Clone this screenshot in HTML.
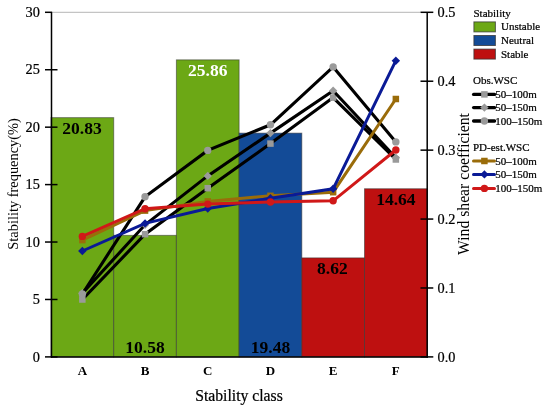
<!DOCTYPE html>
<html><head><meta charset="utf-8"><style>html,body{margin:0;padding:0;background:#fff;}svg{display:block;}</style></head><body>
<svg width="550" height="411" viewBox="0 0 550 411">
<style>text:not([font-weight]){stroke:#000;stroke-width:0.22px;}</style>
<rect width="550" height="411" fill="#fff"/>
<line x1="52.5" y1="12.3" x2="420.2" y2="12.3" stroke="#c4c4c4" stroke-width="1.2"/>
<rect x="51.00" y="117.63" width="62.70" height="239.27" fill="#6ca815" stroke="#333" stroke-opacity="0.55" stroke-width="1"/>
<rect x="113.70" y="235.37" width="62.70" height="121.53" fill="#6ca815" stroke="#333" stroke-opacity="0.55" stroke-width="1"/>
<rect x="176.40" y="59.85" width="62.70" height="297.05" fill="#6ca815" stroke="#333" stroke-opacity="0.55" stroke-width="1"/>
<rect x="239.10" y="133.14" width="62.70" height="223.76" fill="#134b97" stroke="#333" stroke-opacity="0.55" stroke-width="1"/>
<rect x="301.80" y="257.88" width="62.70" height="99.02" fill="#be1010" stroke="#333" stroke-opacity="0.55" stroke-width="1"/>
<rect x="364.50" y="188.74" width="62.70" height="168.16" fill="#be1010" stroke="#333" stroke-opacity="0.55" stroke-width="1"/>
<text x="82.05" y="133.53" font-family="Liberation Serif, serif" font-weight="bold" font-size="17.5" text-anchor="middle" fill="#000">20.83</text>
<text x="145.05" y="352.60" font-family="Liberation Serif, serif" font-weight="bold" font-size="17.5" text-anchor="middle" fill="#000">10.58</text>
<text x="207.75" y="76.25" font-family="Liberation Serif, serif" font-weight="bold" font-size="17.5" text-anchor="middle" fill="#fff">25.86</text>
<text x="270.45" y="352.60" font-family="Liberation Serif, serif" font-weight="bold" font-size="17.5" text-anchor="middle" fill="#000">19.48</text>
<text x="332.35" y="274.28" font-family="Liberation Serif, serif" font-weight="bold" font-size="17.5" text-anchor="middle" fill="#000">8.62</text>
<text x="395.85" y="205.14" font-family="Liberation Serif, serif" font-weight="bold" font-size="17.5" text-anchor="middle" fill="#000">14.64</text>
<polyline points="82.35,299.50 145.05,234.20 207.75,188.20 270.45,143.60 333.15,97.60 395.85,159.50" fill="none" stroke="#000" stroke-width="3.1" stroke-linejoin="miter"/>
<rect x="79.10" y="296.25" width="6.50" height="6.50" fill="#9a9a9a"/>
<rect x="141.80" y="230.95" width="6.50" height="6.50" fill="#9a9a9a"/>
<rect x="204.50" y="184.95" width="6.50" height="6.50" fill="#9a9a9a"/>
<rect x="267.20" y="140.35" width="6.50" height="6.50" fill="#9a9a9a"/>
<rect x="329.90" y="94.35" width="6.50" height="6.50" fill="#9a9a9a"/>
<rect x="392.60" y="156.25" width="6.50" height="6.50" fill="#9a9a9a"/>
<polyline points="82.35,293.30 145.05,224.80 207.75,175.90 270.45,133.10 333.15,90.70 395.85,157.80" fill="none" stroke="#000" stroke-width="3.1" stroke-linejoin="miter"/>
<path d="M82.35 289.10L86.55 293.30L82.35 297.50L78.15 293.30Z" fill="#9a9a9a"/>
<path d="M145.05 220.60L149.25 224.80L145.05 229.00L140.85 224.80Z" fill="#9a9a9a"/>
<path d="M207.75 171.70L211.95 175.90L207.75 180.10L203.55 175.90Z" fill="#9a9a9a"/>
<path d="M270.45 128.90L274.65 133.10L270.45 137.30L266.25 133.10Z" fill="#9a9a9a"/>
<path d="M333.15 86.50L337.35 90.70L333.15 94.90L328.95 90.70Z" fill="#9a9a9a"/>
<path d="M395.85 153.60L400.05 157.80L395.85 162.00L391.65 157.80Z" fill="#9a9a9a"/>
<polyline points="82.35,294.00 145.05,196.80 207.75,150.40 270.45,124.80 333.15,66.90 395.85,141.90" fill="none" stroke="#000" stroke-width="3.1" stroke-linejoin="miter"/>
<circle cx="82.35" cy="294.00" r="3.7" fill="#9a9a9a"/>
<circle cx="145.05" cy="196.80" r="3.7" fill="#9a9a9a"/>
<circle cx="207.75" cy="150.40" r="3.7" fill="#9a9a9a"/>
<circle cx="270.45" cy="124.80" r="3.7" fill="#9a9a9a"/>
<circle cx="333.15" cy="66.90" r="3.7" fill="#9a9a9a"/>
<circle cx="395.85" cy="141.90" r="3.7" fill="#9a9a9a"/>
<polyline points="82.35,240.10 145.05,210.60 207.75,201.40 270.45,195.80 333.15,192.20 395.85,99.00" fill="none" stroke="#9a6c0a" stroke-width="3" stroke-linejoin="miter"/>
<rect x="79.10" y="236.85" width="6.50" height="6.50" fill="#9a6c0a"/>
<rect x="141.80" y="207.35" width="6.50" height="6.50" fill="#9a6c0a"/>
<rect x="204.50" y="198.15" width="6.50" height="6.50" fill="#9a6c0a"/>
<rect x="267.20" y="192.55" width="6.50" height="6.50" fill="#9a6c0a"/>
<rect x="329.90" y="188.95" width="6.50" height="6.50" fill="#9a6c0a"/>
<rect x="392.60" y="95.75" width="6.50" height="6.50" fill="#9a6c0a"/>
<polyline points="82.35,251.00 145.05,223.40 207.75,208.50 270.45,198.30 333.15,188.80 395.85,60.70" fill="none" stroke="#0a1a96" stroke-width="3" stroke-linejoin="miter"/>
<path d="M82.35 246.80L86.55 251.00L82.35 255.20L78.15 251.00Z" fill="#0a1a96"/>
<path d="M145.05 219.20L149.25 223.40L145.05 227.60L140.85 223.40Z" fill="#0a1a96"/>
<path d="M207.75 204.30L211.95 208.50L207.75 212.70L203.55 208.50Z" fill="#0a1a96"/>
<path d="M270.45 194.10L274.65 198.30L270.45 202.50L266.25 198.30Z" fill="#0a1a96"/>
<path d="M333.15 184.60L337.35 188.80L333.15 193.00L328.95 188.80Z" fill="#0a1a96"/>
<path d="M395.85 56.50L400.05 60.70L395.85 64.90L391.65 60.70Z" fill="#0a1a96"/>
<polyline points="82.35,236.40 145.05,208.70 207.75,204.10 270.45,202.00 333.15,200.80 395.85,150.00" fill="none" stroke="#d01818" stroke-width="3" stroke-linejoin="miter"/>
<circle cx="82.35" cy="236.40" r="3.7" fill="#d01818"/>
<circle cx="145.05" cy="208.70" r="3.7" fill="#d01818"/>
<circle cx="207.75" cy="204.10" r="3.7" fill="#d01818"/>
<circle cx="270.45" cy="202.00" r="3.7" fill="#d01818"/>
<circle cx="333.15" cy="200.80" r="3.7" fill="#d01818"/>
<circle cx="395.85" cy="150.00" r="3.7" fill="#d01818"/>
<line x1="51.5" y1="12.3" x2="51.5" y2="357.65" stroke="#000" stroke-width="1.5"/>
<line x1="427.2" y1="12.3" x2="427.2" y2="357.65" stroke="#000" stroke-width="1.5"/>
<line x1="51.0" y1="356.9" x2="427.95" y2="356.9" stroke="#000" stroke-width="1.5"/>
<line x1="45" y1="356.90" x2="57.5" y2="356.90" stroke="#000" stroke-width="1.5"/>
<text x="39.8" y="361.50" font-family="Liberation Serif, serif" font-size="14.3" text-anchor="end">0</text>
<line x1="45" y1="299.47" x2="57.5" y2="299.47" stroke="#000" stroke-width="1.5"/>
<text x="39.8" y="304.07" font-family="Liberation Serif, serif" font-size="14.3" text-anchor="end">5</text>
<line x1="45" y1="242.03" x2="57.5" y2="242.03" stroke="#000" stroke-width="1.5"/>
<text x="39.8" y="246.63" font-family="Liberation Serif, serif" font-size="14.3" text-anchor="end">10</text>
<line x1="45" y1="184.60" x2="57.5" y2="184.60" stroke="#000" stroke-width="1.5"/>
<text x="39.8" y="189.20" font-family="Liberation Serif, serif" font-size="14.3" text-anchor="end">15</text>
<line x1="45" y1="127.17" x2="57.5" y2="127.17" stroke="#000" stroke-width="1.5"/>
<text x="39.8" y="131.77" font-family="Liberation Serif, serif" font-size="14.3" text-anchor="end">20</text>
<line x1="45" y1="69.73" x2="57.5" y2="69.73" stroke="#000" stroke-width="1.5"/>
<text x="39.8" y="74.33" font-family="Liberation Serif, serif" font-size="14.3" text-anchor="end">25</text>
<line x1="45" y1="12.30" x2="52.2" y2="12.30" stroke="#000" stroke-width="1.5"/>
<text x="39.8" y="16.90" font-family="Liberation Serif, serif" font-size="14.3" text-anchor="end">30</text>
<line x1="420.5" y1="356.90" x2="433.3" y2="356.90" stroke="#000" stroke-width="1.5"/>
<text x="437.5" y="361.50" font-family="Liberation Serif, serif" font-size="14.3">0.0</text>
<line x1="420.5" y1="287.98" x2="433.3" y2="287.98" stroke="#000" stroke-width="1.5"/>
<text x="437.5" y="292.58" font-family="Liberation Serif, serif" font-size="14.3">0.1</text>
<line x1="420.5" y1="219.06" x2="433.3" y2="219.06" stroke="#000" stroke-width="1.5"/>
<text x="437.5" y="223.66" font-family="Liberation Serif, serif" font-size="14.3">0.2</text>
<line x1="420.5" y1="150.14" x2="433.3" y2="150.14" stroke="#000" stroke-width="1.5"/>
<text x="437.5" y="154.74" font-family="Liberation Serif, serif" font-size="14.3">0.3</text>
<line x1="420.5" y1="81.22" x2="433.3" y2="81.22" stroke="#000" stroke-width="1.5"/>
<text x="437.5" y="85.82" font-family="Liberation Serif, serif" font-size="14.3">0.4</text>
<line x1="420.5" y1="12.30" x2="433.3" y2="12.30" stroke="#000" stroke-width="1.5"/>
<text x="437.5" y="16.90" font-family="Liberation Serif, serif" font-size="14.3">0.5</text>
<text x="82.35" y="375.2" font-family="Liberation Serif, serif" font-weight="bold" font-size="13" text-anchor="middle">A</text>
<text x="145.05" y="375.2" font-family="Liberation Serif, serif" font-weight="bold" font-size="13" text-anchor="middle">B</text>
<text x="207.75" y="375.2" font-family="Liberation Serif, serif" font-weight="bold" font-size="13" text-anchor="middle">C</text>
<text x="270.45" y="375.2" font-family="Liberation Serif, serif" font-weight="bold" font-size="13" text-anchor="middle">D</text>
<text x="333.15" y="375.2" font-family="Liberation Serif, serif" font-weight="bold" font-size="13" text-anchor="middle">E</text>
<text x="395.85" y="375.2" font-family="Liberation Serif, serif" font-weight="bold" font-size="13" text-anchor="middle">F</text>
<text x="239" y="400.6" font-family="Liberation Serif, serif" font-size="15.7" text-anchor="middle">Stability class</text>
<text transform="translate(17.9,183.9) rotate(-90)" font-family="Liberation Serif, serif" font-weight="normal" font-size="14.4" text-anchor="middle">Stability frequency(%)</text>
<text transform="translate(469.2,184) rotate(-90)" font-family="Liberation Serif, serif" font-weight="normal" font-size="15.7" text-anchor="middle">Wind shear coefficient</text>
<text x="473.5" y="17" font-family="Liberation Serif, serif" font-size="11">Stability</text>
<rect x="473.9" y="21.90" width="21.5" height="10" fill="#6ca815" stroke="#333" stroke-opacity="0.75" stroke-width="1"/>
<text x="501" y="30.40" font-family="Liberation Serif, serif" font-size="11">Unstable</text>
<rect x="473.9" y="35.50" width="21.5" height="10" fill="#134b97" stroke="#333" stroke-opacity="0.75" stroke-width="1"/>
<text x="501" y="44.00" font-family="Liberation Serif, serif" font-size="11">Neutral</text>
<rect x="473.9" y="49.10" width="21.5" height="10" fill="#be1010" stroke="#333" stroke-opacity="0.75" stroke-width="1"/>
<text x="501" y="57.60" font-family="Liberation Serif, serif" font-size="11">Stable</text>
<text x="473" y="84" font-family="Liberation Serif, serif" font-size="11">Obs.WSC</text>
<line x1="473.6" y1="94.4" x2="494.6" y2="94.4" stroke="#000" stroke-width="3.3" stroke-linecap="round"/>
<rect x="481.15" y="91.15" width="6.50" height="6.50" fill="#9a9a9a"/>
<text x="495.2" y="98.00" font-family="Liberation Serif, serif" font-size="11">50–100m</text>
<line x1="473.6" y1="107.6" x2="494.6" y2="107.6" stroke="#000" stroke-width="3.3" stroke-linecap="round"/>
<path d="M484.40 103.40L488.60 107.60L484.40 111.80L480.20 107.60Z" fill="#9a9a9a"/>
<text x="495.2" y="111.20" font-family="Liberation Serif, serif" font-size="11">50–150m</text>
<line x1="473.6" y1="121" x2="494.6" y2="121" stroke="#000" stroke-width="3.3" stroke-linecap="round"/>
<circle cx="484.40" cy="121.00" r="3.7" fill="#9a9a9a"/>
<text x="495.2" y="124.60" font-family="Liberation Serif, serif" font-size="11">100–150m</text>
<text x="473" y="151" font-family="Liberation Serif, serif" font-size="11">PD-est.WSC</text>
<line x1="473.5" y1="161" x2="494.5" y2="161" stroke="#9a6c0a" stroke-width="3" stroke-linecap="round"/>
<rect x="481.15" y="157.75" width="6.50" height="6.50" fill="#9a6c0a"/>
<text x="495.2" y="164.60" font-family="Liberation Serif, serif" font-size="11">50–100m</text>
<line x1="473.5" y1="174.4" x2="494.5" y2="174.4" stroke="#0a1a96" stroke-width="3" stroke-linecap="round"/>
<path d="M484.40 170.20L488.60 174.40L484.40 178.60L480.20 174.40Z" fill="#0a1a96"/>
<text x="495.2" y="178.00" font-family="Liberation Serif, serif" font-size="11">50–150m</text>
<line x1="473.5" y1="188.4" x2="494.5" y2="188.4" stroke="#d01818" stroke-width="3" stroke-linecap="round"/>
<circle cx="484.40" cy="188.40" r="3.7" fill="#d01818"/>
<text x="495.2" y="192.00" font-family="Liberation Serif, serif" font-size="11">100–150m</text>
</svg>
</body></html>
